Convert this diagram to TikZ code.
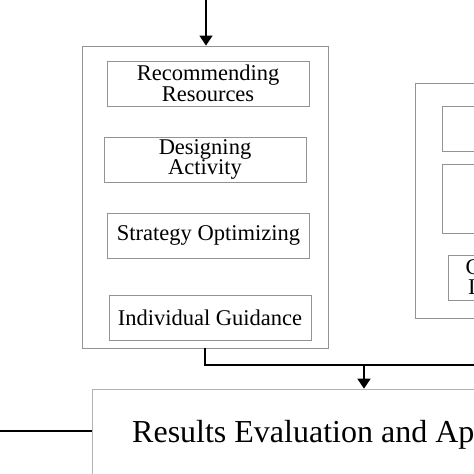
\documentclass[tikz,border=0pt]{standalone}
\usepackage{fontspec}
\setmainfont{Liberation Serif}
\usepackage{tikz}
\usetikzlibrary{arrows.meta}
\tikzset{
  box_out/.style = {rectangle, draw=gray!85, line width=0.9pt, inner sep=0pt},% cadre exterieur
  box_in/.style = {rectangle, draw=gray!85, line width=0.9pt, inner sep=0pt, align=center,
    minimum width=202pt, minimum height=45pt, font=\fontsize{22.5}{20.5}\selectfont},% cadre interieur
  box_res/.style = {rectangle, draw=gray!60, line width=0.7pt, inner sep=0pt},% cadre resultats
  txt_cut/.style = {inner sep=0pt, font=\fontsize{22.5}{20.5}\selectfont},% texte coupe
  conn/.style = {black, line width=1.7pt}% liaison
}

\begin{document}
\begin{tikzpicture}[x=1pt,y=-1pt,>={Triangle[length=10pt,width=13pt]}]
\clip (0,0) rectangle (474,474);
\fill[white] (0,0) rectangle (474,474);
% bloc de gauche
\node [box_out, minimum width=246pt, minimum height=302pt] (left_box) at (205,197) {};
\node [box_in] (recom) at (208,83.5) {Recommending\\Resources};
\node [box_in] (design) at (205,159.5) {Designing\\Activity};
\node [box_in] (strat) at (208.5,235.5) {Strategy Optimizing};
\node [box_in] (guide) at (210,317.5) {Individual Guidance};
% bloc de droite
\node [box_out, minimum width=246pt, minimum height=235pt] (right_box) at (538,200.5) {};
\node [box_in] (r_one) at (543,128.5) {};
\node [box_in, minimum height=69pt] (r_two) at (543,198.5) {};
\node [box_in] (r_three) at (549,277.5) {};
\node [txt_cut, anchor=base west] (r_txt_a) at (465.5,274.5) {C};
\node [txt_cut, anchor=base west] (r_txt_b) at (468,294.5) {I};
% resultats
\node [box_res, minimum width=560pt, minimum height=200pt] (res) at (372,489) {};
\node [anchor=base west, inner sep=0pt, font=\fontsize{32}{32}\selectfont] (res_txt) at (132,442) {Results Evaluation and Ap};
% liaisons
\coordinate (top_in) at (206,0);
\coordinate (join) at (364,365);
\coordinate (right_out) at (480,365);
\coordinate (left_in) at (0,431);
\draw [conn,->] (top_in) -- (top_in |- left_box.north);
\draw [conn] (left_box.south) |- (right_out);
\draw [conn,->] (join) -- (join |- res.north);
\draw [conn] (left_in) -- (left_in -| res.west);
\end{tikzpicture}
\end{document}
